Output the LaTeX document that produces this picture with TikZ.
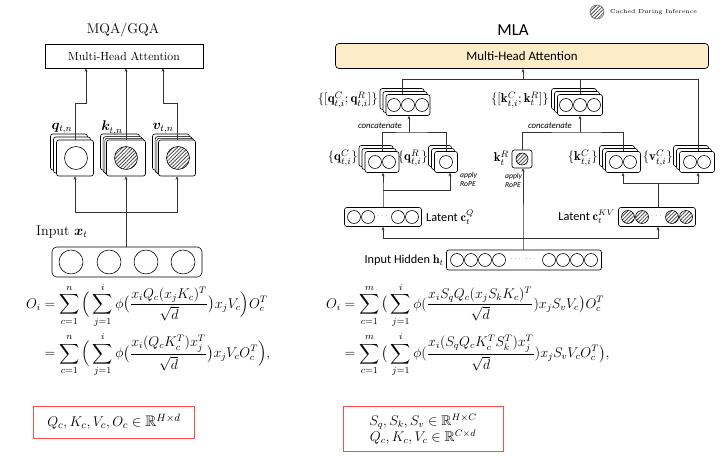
\documentclass[tikz,border=0pt]{standalone}
\usepackage{amsmath,amssymb,bm}
\usepackage{fontspec}
\newfontfamily\sansf{Carlito}
\usetikzlibrary{shadows,patterns.meta,arrows.meta}
\begin{document}
\begin{tikzpicture}[x=0.03cm,y=-0.03cm,
  arr/.style={-{Stealth[length=3pt,width=2.5pt]},line width=0.5pt,draw=black!80},
  ln/.style={line width=0.5pt,draw=black!80},
  box/.style={draw,fill=white,rounded corners=2pt,line width=0.5pt},
  stk/.style={box,double copy shadow={shadow xshift=-0.09cm,shadow yshift=0.09cm,draw,fill=white}},
  cir/.style={circle,draw,fill=white,inner sep=0pt,line width=0.5pt,minimum size=#1*0.03cm},
  hat/.style={cir=#1,pattern={Lines[angle=45,distance=2.2pt,line width=0.7pt]},pattern color=black!70},
  lab/.style={inner sep=0pt},
  mlab/.style={inner sep=0pt,anchor=east,font=\fontsize{11}{13}\selectfont}]
\useasboundingbox (0,0) rectangle (720,456);
% ---------- legend
\node[hat=14,draw=black!60] (leg) at (597,12) {};
\node[lab,anchor=west,font=\fontsize{5}{6}\selectfont] (legt) at (610,12) {Cached During Inference};
% ---------- Left: MQA/GQA
\node[lab,font=\large] (tl) at (123,30) {MQA/GQA};
\node[draw,line width=0.5pt,minimum width=158*0.03cm,minimum height=24*0.03cm,font=\fontsize{10}{12}\selectfont] (mhaL) at (124,56) {Multi-Head Attention};
\node[stk,minimum width=37*0.03cm,minimum height=36*0.03cm] (q) at (75,158) {};
\node[stk,minimum width=39*0.03cm,minimum height=36*0.03cm,double copy shadow={shadow xshift=-0.05cm,shadow yshift=0.05cm,draw,fill=white}] (k) at (126,158) {};
\node[stk,minimum width=37*0.03cm,minimum height=36*0.03cm,double copy shadow={shadow xshift=-0.05cm,shadow yshift=0.05cm,draw,fill=white}] (v) at (177,158) {};
\node[cir=23] (qc) at (76,158) {};
\node[hat=23,draw] (kc) at (126,158) {};
\node[hat=23,draw] (vc) at (178,158) {};
\node[lab,font=\large] (ql) at (62,128) {$\bm{q}_{t,n}$};
\node[lab,font=\large] (kl) at (112,128) {$\bm{k}_{t,n}$};
\node[lab,font=\large] (vl) at (163,128) {$\bm{v}_{t,n}$};
\node[lab,anchor=west,font=\large] (inlab) at (36,232) {Input $\bm{x}_t$};
\node[box,minimum width=150*0.03cm,minimum height=30*0.03cm,rounded corners=4pt] (inL) at (127,262) {};
\foreach \i/\xx in {1/71,2/109,3/146,4/183} \node[cir=24] (ic\i) at (\xx,262) {};
\coordinate (qb) at (86,103);
\coordinate (vb) at (163,103);
\coordinate (lb) at (126,212);
\draw[arr] (q.north) |- (qb) -- (qb |- mhaL.south);
\draw[arr] (k.north) -- (k.north |- mhaL.south);
\draw[arr] (v.north) |- (vb) -- (vb |- mhaL.south);
\draw[arr] (inL.north -| k.south) -- (k.south);
\draw[arr] (lb) -| (q.south);
\draw[arr] (lb) -| (v.south);
% ---------- Right: MLA
\begin{scope}[font=\sansf]
\node[lab,font=\sansf\Large] (tr) at (513,30) {MLA};
\node[draw,line width=0.6pt,fill={rgb,255:red,253;green,236;blue,200},rounded corners=3pt,minimum width=373*0.03cm,minimum height=25*0.03cm,font=\sansf\fontsize{11}{13}\selectfont] (mhaR) at (522,56) {Multi-Head Attention};
% concat boxes
\node[stk,minimum width=44*0.03cm,minimum height=21*0.03cm] (qcat) at (408,105) {};
\node[stk,minimum width=45*0.03cm,minimum height=21*0.03cm] (kcat) at (580,105) {};
\foreach \i/\xx in {1/394,2/408,3/422} \node[cir=13] (qcc\i) at (\xx,105) {};
\foreach \i/\xx in {1/566,2/580,3/594} \node[cir=13] (kcc\i) at (\xx,105) {};
\node[mlab] (qcatl) at (378,100) {$\{[\mathbf{q}^C_{t,i};\mathbf{q}^R_{t,i}]\}$};
\node[mlab] (kcatl) at (549,100) {$\{[\mathbf{k}^C_{t,i};\mathbf{k}^R_{t}]\}$};
\node[lab,font=\sansf\fontsize{7.5}{8}\selectfont\itshape] (conc1) at (380,126) {concatenate};
\node[lab,font=\sansf\fontsize{7.5}{8}\selectfont\itshape] (conc2) at (550,126) {concatenate};
% middle level
\node[stk,minimum width=34*0.03cm,minimum height=21*0.03cm] (qC) at (382,162) {};
\foreach \i/\xx in {1/375,2/389} \node[cir=13] (qCc\i) at (\xx,162) {};
\node[stk,minimum width=23*0.03cm,minimum height=21*0.03cm] (qR) at (446,162) {};
\node[cir=13] (qRc) at (446,162) {};
\node[box,minimum width=20*0.03cm,minimum height=18*0.03cm] (kR) at (522,159) {};
\node[hat=12,draw] (kRc) at (522,159) {};
\node[stk,minimum width=35*0.03cm,minimum height=21*0.03cm] (kC) at (623,162) {};
\foreach \i/\xx in {1/616,2/630} \node[cir=13] (kCc\i) at (\xx,162) {};
\node[stk,minimum width=35*0.03cm,minimum height=21*0.03cm] (vC) at (697,162) {};
\foreach \i/\xx in {1/690,2/704} \node[cir=13] (vCc\i) at (\xx,162) {};
\node[mlab] (qCl) at (358,158) {$\{\mathbf{q}^C_{t,i}\}$};
\node[mlab] (qRl) at (428,158) {$\{\mathbf{q}^R_{t,i}\}$};
\node[mlab] (kRl) at (509,158) {$\mathbf{k}^R_{t}$};
\node[mlab] (kCl) at (598,158) {$\{\mathbf{k}^C_{t,i}\}$};
\node[mlab] (vCl) at (673,158) {$\{\mathbf{v}^C_{t,i}\}$};
\node[lab,anchor=north west,align=left,font=\sansf\fontsize{6.5}{8}\selectfont\itshape] (rope1) at (460,172) {apply\\RoPE};
\node[lab,anchor=north west,align=left,font=\sansf\fontsize{6.5}{8}\selectfont\itshape] (rope2) at (505,173) {apply\\RoPE};
% latents
\node[box,minimum width=77*0.03cm,minimum height=19*0.03cm] (cQ) at (383,217) {};
\foreach \i/\xx in {1/354,2/368,3/398,4/412} \node[cir=13] (cQc\i) at (\xx,217) {};
\node[lab,font=\tiny] (cQd) at (383,216) {$\cdots$};
\node[lab,anchor=west,font=\sansf\fontsize{10.5}{12}\selectfont] (cQl) at (426,217) {Latent $\mathbf{c}^Q_t$};
\node[box,minimum width=77*0.03cm,minimum height=19*0.03cm] (cKV) at (657,217) {};
\foreach \i/\xx in {1/628,2/642,3/672,4/686} \node[hat=13,draw] (cKVc\i) at (\xx,217) {};
\node[lab,font=\tiny] (cKVd) at (657,216) {$\cdots$};
\node[lab,anchor=east,font=\sansf\fontsize{10.5}{12}\selectfont] (cKVl) at (615,217) {Latent $\mathbf{c}^{KV}_t$};
% input
\node[box,minimum width=155*0.03cm,minimum height=20*0.03cm] (inR) at (524,260) {};
\foreach \i/\xx in {1/457,2/471,3/485,4/499,5/549,6/563,7/577,8/591} \node[cir=13] (inc\i) at (\xx,260) {};
\node[lab,font=\tiny] (ind) at (524,259) {$\cdots\;\cdots$};
\node[lab,anchor=east,font=\sansf\fontsize{10.5}{12}\selectfont] (inRl) at (444,260) {Input Hidden $\mathbf{h}_t$};
% connectors
\coordinate (top) at (523,79);
\coordinate (topL) at (402,79);
\coordinate (topR) at (698,79);
\draw[arr] (top) -- (top |- mhaR.south);
\draw[ln] (topL) -- (topR);
\draw[ln] (topL) -- (topL |- qcat.north);
\draw[ln] (kcat.north |- topL) -- (kcat.north);
\draw[ln] (topR) -- (vC.north -| topR);
\coordinate (qj) at (409,132);
\coordinate (kj) at (580,132);
\draw[arr] (qj) -- (qj |- qcat.south);
\draw[arr] (kj) -- (kj |- kcat.south);
\draw[ln] (qC.north) |- (qj) -| (qR.north);
\draw[ln] (kR.north) |- (kj) -| (kC.north);
\coordinate (qs) at (383,190);
\coordinate (qs2) at (450,190);
\draw[arr] (cQ.north) -- (qs) -- (qs |- qC.south);
\draw[arr] (qs) -- (qs2) -- (qs2 |- qR.south);
\coordinate (ks) at (658,183);
\draw[ln] (cKV.north -| ks) -- (ks);
\draw[arr] (ks) -| (kC.south);
\draw[arr] (ks) -| (vC.south -| topR);
\coordinate (hs) at (523,238);
\draw[arr] (inR.north -| hs) -- (hs) -- (kR.south -| hs);
\draw[arr] (hs) -| (cQ.south);
\draw[arr] (hs) -| (cKV.south -| ks);
\end{scope}
% ---------- equations
\node[lab,anchor=west,font=\fontsize{12}{14}\selectfont] (eqL) at (26,330) {$\begin{aligned}
O_i &= \sum_{c=1}^{n}\Big(\sum_{j=1}^{i}\phi\big(\frac{x_iQ_c(x_jK_c)^T}{\sqrt{d}}\big)x_jV_c\Big)O_c^T\\[0pt]
&= \sum_{c=1}^{n}\Big(\sum_{j=1}^{i}\phi\big(\frac{x_i(Q_cK_c^T)x_j^T}{\sqrt{d}}\big)x_jV_cO_c^T\Big),
\end{aligned}$};
\node[draw=red!70,line width=0.6pt,minimum width=161*0.03cm,minimum height=32*0.03cm,font=\fontsize{13}{15}\selectfont] (bxL) at (114,422) {$Q_c,K_c,V_c,O_c\in\mathbb{R}^{H\times d}$};
\node[lab,anchor=west,font=\fontsize{12}{14}\selectfont] (eqR) at (326,330) {$\begin{aligned}
O_i &= \sum_{c=1}^{m}\big(\sum_{j=1}^{i}\phi(\frac{x_iS_qQ_c(x_jS_kK_c)^T}{\sqrt{d}})x_jS_vV_c\big)O_c^T\\[0pt]
&= \sum_{c=1}^{m}\big(\sum_{j=1}^{i}\phi(\frac{x_i(S_qQ_cK_c^TS_k^T)x_j^T}{\sqrt{d}})x_jS_vV_cO_c^T\big),
\end{aligned}$};
\node[draw=red!70,line width=0.6pt,minimum width=160*0.03cm,minimum height=45*0.03cm,align=center,font=\fontsize{12}{14}\selectfont] (bxR) at (423,429) {$S_q,S_k,S_v\in\mathbb{R}^{H\times C}$\\$Q_c,K_c,V_c\in\mathbb{R}^{C\times d}$};
\end{tikzpicture}
\end{document}
